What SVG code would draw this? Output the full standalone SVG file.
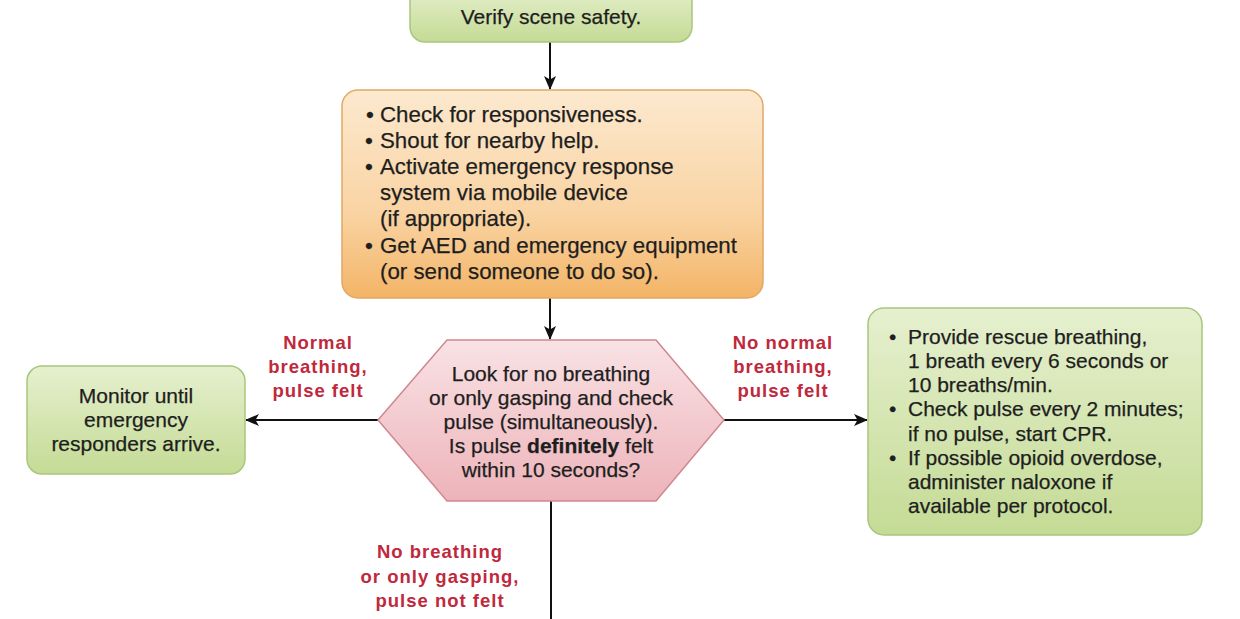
<svg xmlns="http://www.w3.org/2000/svg" width="1240" height="619" viewBox="0 0 1240 619">
<defs>
<linearGradient id="gGreen" x1="0" y1="0" x2="0" y2="1">
<stop offset="0" stop-color="#e6f0cf"/><stop offset="1" stop-color="#c4db95"/>
</linearGradient>
<linearGradient id="gOrange" x1="0" y1="0" x2="0" y2="1">
<stop offset="0" stop-color="#fce9cf"/><stop offset="0.6" stop-color="#f9d3a2"/><stop offset="1" stop-color="#f3b466"/>
</linearGradient>
<linearGradient id="gPink" x1="0" y1="0" x2="0" y2="1">
<stop offset="0" stop-color="#f9e2e4"/><stop offset="1" stop-color="#edb3ba"/>
</linearGradient>
<marker id="arr" viewBox="0 0 14 12" refX="13" refY="6" markerWidth="14" markerHeight="12" markerUnits="userSpaceOnUse" orient="auto">
<path d="M0,0 L14,6 L0,12 L3.5,6 Z" fill="#111"/>
</marker>
<style>
.t{font-family:"Liberation Sans",Arial,sans-serif;font-size:21px;fill:#1e1e1e;stroke:#1e1e1e;stroke-width:0.25;}
.o{font-size:22.3px;}
.c{text-anchor:middle;}
.lbl{font-family:"Liberation Sans",Arial,sans-serif;font-size:18.5px;font-weight:bold;fill:#c0283c;text-anchor:middle;letter-spacing:1px;}
.green{fill:url(#gGreen);stroke:#a9c67e;stroke-width:1.5;}
.orange{fill:url(#gOrange);stroke:#e2a866;stroke-width:1.5;}
.pink{fill:url(#gPink);stroke:#cf8790;stroke-width:1.5;}
.conn{stroke:#111;stroke-width:2;fill:none;}
</style>
</defs>
<rect width="1240" height="619" fill="#ffffff"/>

<g id="connectors">
<line class="conn" x1="550" y1="42" x2="550" y2="89" marker-end="url(#arr)"/>
<line class="conn" x1="550" y1="298" x2="550" y2="339" marker-end="url(#arr)"/>
<line class="conn" x1="378" y1="420" x2="246" y2="420" marker-end="url(#arr)"/>
<line class="conn" x1="724" y1="420" x2="867" y2="420" marker-end="url(#arr)"/>
<line class="conn" x1="551" y1="501" x2="551" y2="619"/>
</g>

<g id="verify">
<rect class="green" x="410" y="-16" width="282" height="58" rx="15"/>
<text class="t c" x="551" y="24" font-size="21.5">Verify scene safety.</text>
</g>

<g id="check">
<rect class="orange" x="342" y="90" width="421" height="208" rx="16"/>
<text class="t o" x="366" y="122">•</text><text class="t o" x="380" y="122">Check for responsiveness.</text>
<text class="t o" x="365" y="148">•</text><text class="t o" x="380" y="148">Shout for nearby help.</text>
<text class="t o" x="365" y="174">•</text><text class="t o" x="380" y="174">Activate emergency response</text>
<text class="t o" x="380" y="200">system via mobile device</text>
<text class="t o" x="380" y="226">(if appropriate).</text>
<text class="t o" x="365" y="253">•</text><text class="t o" x="380" y="253">Get AED and emergency equipment</text>
<text class="t o" x="380" y="279">(or send someone to do so).</text>
</g>

<g id="decision">
<polygon class="pink" points="378,420 447,340 656,340 724,420 656,501 447,501"/>
<text class="t c" x="551" y="381">Look for no breathing</text>
<text class="t c" x="551" y="405">or only gasping and check</text>
<text class="t c" x="551" y="429">pulse (simultaneously).</text>
<text class="t c" x="551" y="453">Is pulse <tspan font-weight="bold">definitely</tspan> felt</text>
<text class="t c" x="551" y="477">within 10 seconds?</text>
</g>

<g id="monitor">
<rect class="green" x="27" y="366" width="218" height="108" rx="15"/>
<text class="t c" x="136" y="403" font-size="21.3">Monitor until</text>
<text class="t c" x="136" y="427" font-size="21.3">emergency</text>
<text class="t c" x="136" y="451" font-size="21.3">responders arrive.</text>
</g>

<g id="rescue">
<rect class="green" x="868" y="308" width="334" height="227" rx="16"/>
<text class="t" x="889" y="344">•</text><text class="t" x="908" y="344">Provide rescue breathing,</text>
<text class="t" x="908" y="368">1 breath every 6 seconds or</text>
<text class="t" x="908" y="392">10 breaths/min.</text>
<text class="t" x="889" y="416">•</text><text class="t" x="908" y="416">Check pulse every 2 minutes;</text>
<text class="t" x="908" y="441">if no pulse, start CPR.</text>
<text class="t" x="889" y="465">•</text><text class="t" x="908" y="465">If possible opioid overdose,</text>
<text class="t" x="908" y="489">administer naloxone if</text>
<text class="t" x="908" y="513">available per protocol.</text>
</g>

<g id="labels">
<text class="lbl" x="318" y="349">Normal</text>
<text class="lbl" x="318" y="373">breathing,</text>
<text class="lbl" x="318" y="397">pulse felt</text>
<text class="lbl" x="783" y="349">No normal</text>
<text class="lbl" x="783" y="373">breathing,</text>
<text class="lbl" x="783" y="397">pulse felt</text>
<text class="lbl" x="440" y="558">No breathing</text>
<text class="lbl" x="440" y="583">or only gasping,</text>
<text class="lbl" x="440" y="607">pulse not felt</text>
</g>
</svg>
